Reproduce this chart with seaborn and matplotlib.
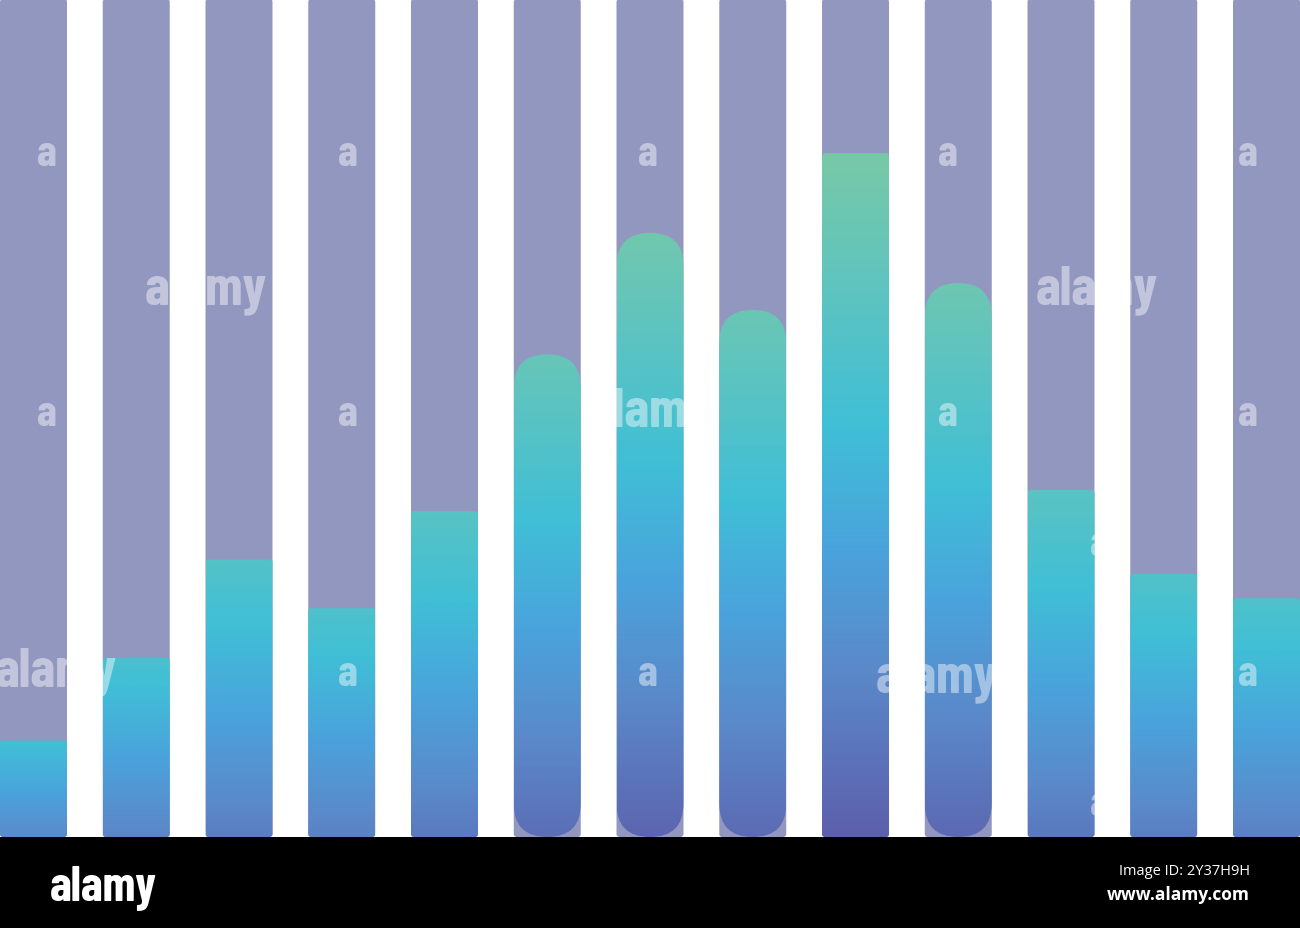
import numpy as np
import seaborn as sns
import matplotlib as mpl
mpl.use('Agg')
import matplotlib.pyplot as plt
from matplotlib.patches import FancyBboxPatch, Rectangle
from matplotlib.colors import LinearSegmentedColormap

# chart data
categories = ['B1', 'B2', 'B3', 'B4', 'B5', 'B6', 'B7', 'B8', 'B9', 'B10', 'B11', 'B12', 'B13']
values = [11.5, 21.4, 33.1, 27.3, 38.9, 57.6, 72.1, 62.9, 81.6, 66.1, 41.4, 31.4, 28.5]
track = [100] * 13
pill_bars = {'B6', 'B7', 'B8', 'B10'}

TRACK_COLOR = '#9297c0'
grad = LinearSegmentedColormap.from_list('bars', [
    (0.0, '#5d5fac'), (0.25, '#5a8aca'), (0.42, '#4aa3dc'),
    (0.6, '#40bfd6'), (0.8, '#5ec4c0'), (1.0, '#78c9a7')])

W, H = 1300, 929
BAND = 91
bar_w = 0.652

fig = plt.figure(figsize=(W / 100, H / 100), dpi=100)
fig.patch.set_facecolor('white')
ax = fig.add_axes([0, BAND / H, 1, 1 - BAND / H])

xlim = (-bar_w / 2, len(categories) - 1 + bar_w / 2)
px_x = W / (xlim[1] - xlim[0])
px_y = (H - BAND) / 100.0
aspect = px_x / px_y


def rounded(x0, w, h, r_px, **kw):
    return FancyBboxPatch((x0, 0), w, h,
                          boxstyle='round,pad=0,rounding_size=%f' % (r_px / px_x),
                          mutation_aspect=aspect, **kw)


# background tracks
sns.barplot(x=categories, y=track, color=TRACK_COLOR, saturation=1, width=bar_w, ax=ax)
for p in [p for p in ax.patches if isinstance(p, Rectangle)]:
    x0, w, h = p.get_x(), p.get_width(), p.get_height()
    p.remove()
    ax.add_patch(rounded(x0, w, h, 3, facecolor=TRACK_COLOR, edgecolor='none', zorder=1))

# value bars with gradient fill
sns.barplot(x=categories, y=values, color='#4aa3dc', saturation=1, width=bar_w, ax=ax)
bars = [p for p in ax.patches if isinstance(p, Rectangle)]
for cat, p in zip(categories, bars):
    x0, w, h = p.get_x(), p.get_width(), p.get_height()
    p.remove()
    r = w * px_x / 2 if cat in pill_bars else 3
    clip = rounded(x0, w, h, r, facecolor='none', edgecolor='none', zorder=2)
    ax.add_patch(clip)
    frac = h * px_y / 684.0
    s_top = 0.55 + 0.45 * frac
    s_bot = 0.30 - 0.30 * frac
    col = grad(np.linspace(s_top, s_bot, 256))[:, None, :]
    im = ax.imshow(col, extent=[x0, x0 + w, 0, h], aspect='auto',
                   origin='upper', interpolation='bilinear', zorder=2)
    im.set_clip_path(clip)

ax.set_xlim(*xlim)
ax.set_ylim(0, 100)
ax.axis('off')

# watermark overlay
wm_font = ['Barlow Condensed', 'DejaVu Sans']
small_a = [(47, 155), (348, 155), (648, 155), (948, 155), (1248, 155),
           (47, 415), (348, 415), (948, 415), (1248, 415),
           (348, 675), (648, 675), (1248, 675), (1100, 545), (1100, 805)]
words = [(206, 290), (1097, 290), (650, 412), (56, 672), (937, 678)]
for x, y in small_a:
    fig.text(x / W, 1 - y / H, 'a', color='white', alpha=0.45, fontsize=32,
             fontweight='bold', family=wm_font, ha='center', va='center', zorder=5)
for x, y in words:
    fig.text(x / W, 1 - y / H, 'alamy', color='white', alpha=0.45, fontsize=40,
             fontweight='bold', family=wm_font, ha='center', va='center', zorder=5)

# bottom band
band = fig.add_axes([0, 0, 1, BAND / H])
band.set_facecolor('black')
band.set_xticks([])
band.set_yticks([])
for s in band.spines.values():
    s.set_visible(False)
fig.text(50 / W, 1 - 901 / H, 'alamy', color='white', fontsize=35, fontweight='bold',
         family=wm_font, ha='left', va='baseline')
fig.text(1250 / W, 1 - 875 / H, 'Image ID: 2Y37H9H', color='white', fontsize=10.5,
         family=['Open Sans', 'DejaVu Sans'], ha='right', va='baseline')
fig.text(1250 / W, 1 - 900 / H, 'www.alamy.com', color='white', fontsize=12.5,
         fontweight='bold', family=['Open Sans', 'DejaVu Sans'], ha='right', va='baseline')

fig.savefig('out.png', dpi=100, facecolor='white')
